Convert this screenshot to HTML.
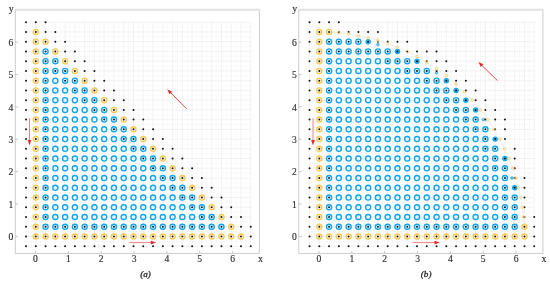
<!DOCTYPE html>
<html><head><meta charset="utf-8"><style>
html,body{margin:0;padding:0;background:#fff;}
svg{display:block;}
text{font-family:"Liberation Serif",serif;font-size:9.6px;fill:#303030;stroke:#303030;stroke-width:0.15px;}
text.ax{font-size:10px;}
text.cap{font-style:italic;font-size:9.2px;fill:#262626;stroke:#262626;stroke-width:0.3px;}
</style></head><body>
<svg width="550" height="286" viewBox="0 0 550 286">
<rect width="550" height="286" fill="#fff"/>
<path d="M30.91 22.22V246.24M40.68 22.22V246.24M50.45 22.22V246.24M60.22 22.22V246.24M70 22.22V246.24M79.76 22.22V246.24M89.53 22.22V246.24M99.3 22.22V246.24M109.07 22.22V246.24M118.84 22.22V246.24M128.62 22.22V246.24M138.38 22.22V246.24M148.15 22.22V246.24M157.93 22.22V246.24M167.69 22.22V246.24M177.46 22.22V246.24M187.24 22.22V246.24M197 22.22V246.24M206.77 22.22V246.24M216.55 22.22V246.24M226.31 22.22V246.24M236.08 22.22V246.24M245.85 22.22V246.24M26.03 241.37H250.74M26.03 231.63H250.74M26.03 221.89H250.74M26.03 212.15H250.74M26.03 202.41H250.74M26.03 192.67H250.74M26.03 182.93H250.74M26.03 173.19H250.74M26.03 163.45H250.74M26.03 153.71H250.74M26.03 143.97H250.74M26.03 134.23H250.74M26.03 124.49H250.74M26.03 114.75H250.74M26.03 105.01H250.74M26.03 95.27H250.74M26.03 85.53H250.74M26.03 75.79H250.74M26.03 66.05H250.74M26.03 56.31H250.74M26.03 46.57H250.74M26.03 36.83H250.74M26.03 27.09H250.74" stroke="#f7f7f7" stroke-width="0.6" fill="none"/>
<path d="M26.03 22.22V246.24M35.8 22.22V246.24M45.57 22.22V246.24M55.34 22.22V246.24M65.11 22.22V246.24M74.88 22.22V246.24M84.65 22.22V246.24M94.42 22.22V246.24M104.19 22.22V246.24M113.96 22.22V246.24M123.73 22.22V246.24M133.5 22.22V246.24M143.27 22.22V246.24M153.04 22.22V246.24M162.81 22.22V246.24M172.58 22.22V246.24M182.35 22.22V246.24M192.12 22.22V246.24M201.89 22.22V246.24M211.66 22.22V246.24M221.43 22.22V246.24M231.2 22.22V246.24M240.97 22.22V246.24M250.74 22.22V246.24M26.03 246.24H250.74M26.03 236.5H250.74M26.03 226.76H250.74M26.03 217.02H250.74M26.03 207.28H250.74M26.03 197.54H250.74M26.03 187.8H250.74M26.03 178.06H250.74M26.03 168.32H250.74M26.03 158.58H250.74M26.03 148.84H250.74M26.03 139.1H250.74M26.03 129.36H250.74M26.03 119.62H250.74M26.03 109.88H250.74M26.03 100.14H250.74M26.03 90.4H250.74M26.03 80.66H250.74M26.03 70.92H250.74M26.03 61.18H250.74M26.03 51.44H250.74M26.03 41.7H250.74M26.03 31.96H250.74M26.03 22.22H250.74" stroke="#efefef" stroke-width="0.8" fill="none"/>
<rect x="15.3" y="9.9" width="244.1" height="243.5" fill="none" stroke="#cdcdcd" stroke-width="1"/>
<path d="M15.3 9.2H259.4" stroke="#dedede" stroke-width="0.8"/>
<path d="M35.5 253.4v-2.5M15.3 236.4h2.8M68.35 253.4v-2.5M15.3 204.03h2.8M101.2 253.4v-2.5M15.3 171.66h2.8M134.05 253.4v-2.5M15.3 139.29h2.8M166.9 253.4v-2.5M15.3 106.92h2.8M199.75 253.4v-2.5M15.3 74.55h2.8M232.6 253.4v-2.5M15.3 42.18h2.8" stroke="#b0b0b0" stroke-width="0.7" fill="none"/>
<text x="35.5" y="262.2" text-anchor="middle">0</text>
<text x="13.2" y="240" text-anchor="end">0</text>
<text x="68.35" y="262.2" text-anchor="middle">1</text>
<text x="13.2" y="207.63" text-anchor="end">1</text>
<text x="101.2" y="262.2" text-anchor="middle">2</text>
<text x="13.2" y="175.26" text-anchor="end">2</text>
<text x="134.05" y="262.2" text-anchor="middle">3</text>
<text x="13.2" y="142.89" text-anchor="end">3</text>
<text x="166.9" y="262.2" text-anchor="middle">4</text>
<text x="13.2" y="110.52" text-anchor="end">4</text>
<text x="199.75" y="262.2" text-anchor="middle">5</text>
<text x="13.2" y="78.15" text-anchor="end">5</text>
<text x="232.6" y="262.2" text-anchor="middle">6</text>
<text x="13.2" y="45.78" text-anchor="end">6</text>
<text x="8.7" y="11.5" class="ax">y</text>
<text x="257.9" y="262" class="ax">x</text>
<g fill="none" stroke="#f9ca52" stroke-width="1.4"><circle cx="35.8" cy="236.5" r="2.55"/><circle cx="45.57" cy="236.5" r="2.55"/><circle cx="55.34" cy="236.5" r="2.55"/><circle cx="65.11" cy="236.5" r="2.55"/><circle cx="74.88" cy="236.5" r="2.55"/><circle cx="84.65" cy="236.5" r="2.55"/><circle cx="94.42" cy="236.5" r="2.55"/><circle cx="104.19" cy="236.5" r="2.55"/><circle cx="113.96" cy="236.5" r="2.55"/><circle cx="123.73" cy="236.5" r="2.55"/><circle cx="133.5" cy="236.5" r="2.55"/><circle cx="143.27" cy="236.5" r="2.55"/><circle cx="153.04" cy="236.5" r="2.55"/><circle cx="162.81" cy="236.5" r="2.55"/><circle cx="172.58" cy="236.5" r="2.55"/><circle cx="182.35" cy="236.5" r="2.55"/><circle cx="192.12" cy="236.5" r="2.55"/><circle cx="201.89" cy="236.5" r="2.55"/><circle cx="211.66" cy="236.5" r="2.55"/><circle cx="221.43" cy="236.5" r="2.55"/><circle cx="231.2" cy="236.5" r="2.55"/><circle cx="240.97" cy="236.5" r="2.55"/><circle cx="35.8" cy="226.76" r="2.55"/><circle cx="231.2" cy="226.76" r="2.55"/><circle cx="35.8" cy="217.02" r="2.55"/><circle cx="221.43" cy="217.02" r="2.55"/><circle cx="35.8" cy="207.28" r="2.55"/><circle cx="211.66" cy="207.28" r="2.55"/><circle cx="35.8" cy="197.54" r="2.55"/><circle cx="201.89" cy="197.54" r="2.55"/><circle cx="35.8" cy="187.8" r="2.55"/><circle cx="192.12" cy="187.8" r="2.55"/><circle cx="35.8" cy="178.06" r="2.55"/><circle cx="182.35" cy="178.06" r="2.55"/><circle cx="35.8" cy="168.32" r="2.55"/><circle cx="172.58" cy="168.32" r="2.55"/><circle cx="35.8" cy="158.58" r="2.55"/><circle cx="162.81" cy="158.58" r="2.55"/><circle cx="35.8" cy="148.84" r="2.55"/><circle cx="153.04" cy="148.84" r="2.55"/><circle cx="35.8" cy="139.1" r="2.55"/><circle cx="143.27" cy="139.1" r="2.55"/><circle cx="35.8" cy="129.36" r="2.55"/><circle cx="133.5" cy="129.36" r="2.55"/><circle cx="35.8" cy="119.62" r="2.55"/><circle cx="123.73" cy="119.62" r="2.55"/><circle cx="35.8" cy="109.88" r="2.55"/><circle cx="113.96" cy="109.88" r="2.55"/><circle cx="35.8" cy="100.14" r="2.55"/><circle cx="104.19" cy="100.14" r="2.55"/><circle cx="35.8" cy="90.4" r="2.55"/><circle cx="94.42" cy="90.4" r="2.55"/><circle cx="35.8" cy="80.66" r="2.55"/><circle cx="84.65" cy="80.66" r="2.55"/><circle cx="35.8" cy="70.92" r="2.55"/><circle cx="74.88" cy="70.92" r="2.55"/><circle cx="35.8" cy="61.18" r="2.55"/><circle cx="65.11" cy="61.18" r="2.55"/><circle cx="35.8" cy="51.44" r="2.55"/><circle cx="55.34" cy="51.44" r="2.55"/><circle cx="35.8" cy="41.7" r="2.55"/><circle cx="45.57" cy="41.7" r="2.55"/><circle cx="35.8" cy="31.96" r="2.55"/></g>
<g fill="none" stroke="#0ea6ee" stroke-width="1.4"><circle cx="45.57" cy="226.76" r="2.55"/><circle cx="55.34" cy="226.76" r="2.55"/><circle cx="65.11" cy="226.76" r="2.55"/><circle cx="74.88" cy="226.76" r="2.55"/><circle cx="84.65" cy="226.76" r="2.55"/><circle cx="94.42" cy="226.76" r="2.55"/><circle cx="104.19" cy="226.76" r="2.55"/><circle cx="113.96" cy="226.76" r="2.55"/><circle cx="123.73" cy="226.76" r="2.55"/><circle cx="133.5" cy="226.76" r="2.55"/><circle cx="143.27" cy="226.76" r="2.55"/><circle cx="153.04" cy="226.76" r="2.55"/><circle cx="162.81" cy="226.76" r="2.55"/><circle cx="172.58" cy="226.76" r="2.55"/><circle cx="182.35" cy="226.76" r="2.55"/><circle cx="192.12" cy="226.76" r="2.55"/><circle cx="201.89" cy="226.76" r="2.55"/><circle cx="211.66" cy="226.76" r="2.55"/><circle cx="221.43" cy="226.76" r="2.55"/><circle cx="45.57" cy="217.02" r="2.55"/><circle cx="55.34" cy="217.02" r="2.55"/><circle cx="65.11" cy="217.02" r="2.55"/><circle cx="74.88" cy="217.02" r="2.55"/><circle cx="84.65" cy="217.02" r="2.55"/><circle cx="94.42" cy="217.02" r="2.55"/><circle cx="104.19" cy="217.02" r="2.55"/><circle cx="113.96" cy="217.02" r="2.55"/><circle cx="123.73" cy="217.02" r="2.55"/><circle cx="133.5" cy="217.02" r="2.55"/><circle cx="143.27" cy="217.02" r="2.55"/><circle cx="153.04" cy="217.02" r="2.55"/><circle cx="162.81" cy="217.02" r="2.55"/><circle cx="172.58" cy="217.02" r="2.55"/><circle cx="182.35" cy="217.02" r="2.55"/><circle cx="192.12" cy="217.02" r="2.55"/><circle cx="201.89" cy="217.02" r="2.55"/><circle cx="211.66" cy="217.02" r="2.55"/><circle cx="45.57" cy="207.28" r="2.55"/><circle cx="55.34" cy="207.28" r="2.55"/><circle cx="65.11" cy="207.28" r="2.55"/><circle cx="74.88" cy="207.28" r="2.55"/><circle cx="84.65" cy="207.28" r="2.55"/><circle cx="94.42" cy="207.28" r="2.55"/><circle cx="104.19" cy="207.28" r="2.55"/><circle cx="113.96" cy="207.28" r="2.55"/><circle cx="123.73" cy="207.28" r="2.55"/><circle cx="133.5" cy="207.28" r="2.55"/><circle cx="143.27" cy="207.28" r="2.55"/><circle cx="153.04" cy="207.28" r="2.55"/><circle cx="162.81" cy="207.28" r="2.55"/><circle cx="172.58" cy="207.28" r="2.55"/><circle cx="182.35" cy="207.28" r="2.55"/><circle cx="192.12" cy="207.28" r="2.55"/><circle cx="201.89" cy="207.28" r="2.55"/><circle cx="45.57" cy="197.54" r="2.55"/><circle cx="55.34" cy="197.54" r="2.55"/><circle cx="65.11" cy="197.54" r="2.55"/><circle cx="74.88" cy="197.54" r="2.55"/><circle cx="84.65" cy="197.54" r="2.55"/><circle cx="94.42" cy="197.54" r="2.55"/><circle cx="104.19" cy="197.54" r="2.55"/><circle cx="113.96" cy="197.54" r="2.55"/><circle cx="123.73" cy="197.54" r="2.55"/><circle cx="133.5" cy="197.54" r="2.55"/><circle cx="143.27" cy="197.54" r="2.55"/><circle cx="153.04" cy="197.54" r="2.55"/><circle cx="162.81" cy="197.54" r="2.55"/><circle cx="172.58" cy="197.54" r="2.55"/><circle cx="182.35" cy="197.54" r="2.55"/><circle cx="192.12" cy="197.54" r="2.55"/><circle cx="45.57" cy="187.8" r="2.55"/><circle cx="55.34" cy="187.8" r="2.55"/><circle cx="65.11" cy="187.8" r="2.55"/><circle cx="74.88" cy="187.8" r="2.55"/><circle cx="84.65" cy="187.8" r="2.55"/><circle cx="94.42" cy="187.8" r="2.55"/><circle cx="104.19" cy="187.8" r="2.55"/><circle cx="113.96" cy="187.8" r="2.55"/><circle cx="123.73" cy="187.8" r="2.55"/><circle cx="133.5" cy="187.8" r="2.55"/><circle cx="143.27" cy="187.8" r="2.55"/><circle cx="153.04" cy="187.8" r="2.55"/><circle cx="162.81" cy="187.8" r="2.55"/><circle cx="172.58" cy="187.8" r="2.55"/><circle cx="182.35" cy="187.8" r="2.55"/><circle cx="45.57" cy="178.06" r="2.55"/><circle cx="55.34" cy="178.06" r="2.55"/><circle cx="65.11" cy="178.06" r="2.55"/><circle cx="74.88" cy="178.06" r="2.55"/><circle cx="84.65" cy="178.06" r="2.55"/><circle cx="94.42" cy="178.06" r="2.55"/><circle cx="104.19" cy="178.06" r="2.55"/><circle cx="113.96" cy="178.06" r="2.55"/><circle cx="123.73" cy="178.06" r="2.55"/><circle cx="133.5" cy="178.06" r="2.55"/><circle cx="143.27" cy="178.06" r="2.55"/><circle cx="153.04" cy="178.06" r="2.55"/><circle cx="162.81" cy="178.06" r="2.55"/><circle cx="172.58" cy="178.06" r="2.55"/><circle cx="45.57" cy="168.32" r="2.55"/><circle cx="55.34" cy="168.32" r="2.55"/><circle cx="65.11" cy="168.32" r="2.55"/><circle cx="74.88" cy="168.32" r="2.55"/><circle cx="84.65" cy="168.32" r="2.55"/><circle cx="94.42" cy="168.32" r="2.55"/><circle cx="104.19" cy="168.32" r="2.55"/><circle cx="113.96" cy="168.32" r="2.55"/><circle cx="123.73" cy="168.32" r="2.55"/><circle cx="133.5" cy="168.32" r="2.55"/><circle cx="143.27" cy="168.32" r="2.55"/><circle cx="153.04" cy="168.32" r="2.55"/><circle cx="162.81" cy="168.32" r="2.55"/><circle cx="45.57" cy="158.58" r="2.55"/><circle cx="55.34" cy="158.58" r="2.55"/><circle cx="65.11" cy="158.58" r="2.55"/><circle cx="74.88" cy="158.58" r="2.55"/><circle cx="84.65" cy="158.58" r="2.55"/><circle cx="94.42" cy="158.58" r="2.55"/><circle cx="104.19" cy="158.58" r="2.55"/><circle cx="113.96" cy="158.58" r="2.55"/><circle cx="123.73" cy="158.58" r="2.55"/><circle cx="133.5" cy="158.58" r="2.55"/><circle cx="143.27" cy="158.58" r="2.55"/><circle cx="153.04" cy="158.58" r="2.55"/><circle cx="45.57" cy="148.84" r="2.55"/><circle cx="55.34" cy="148.84" r="2.55"/><circle cx="65.11" cy="148.84" r="2.55"/><circle cx="74.88" cy="148.84" r="2.55"/><circle cx="84.65" cy="148.84" r="2.55"/><circle cx="94.42" cy="148.84" r="2.55"/><circle cx="104.19" cy="148.84" r="2.55"/><circle cx="113.96" cy="148.84" r="2.55"/><circle cx="123.73" cy="148.84" r="2.55"/><circle cx="133.5" cy="148.84" r="2.55"/><circle cx="143.27" cy="148.84" r="2.55"/><circle cx="45.57" cy="139.1" r="2.55"/><circle cx="55.34" cy="139.1" r="2.55"/><circle cx="65.11" cy="139.1" r="2.55"/><circle cx="74.88" cy="139.1" r="2.55"/><circle cx="84.65" cy="139.1" r="2.55"/><circle cx="94.42" cy="139.1" r="2.55"/><circle cx="104.19" cy="139.1" r="2.55"/><circle cx="113.96" cy="139.1" r="2.55"/><circle cx="123.73" cy="139.1" r="2.55"/><circle cx="133.5" cy="139.1" r="2.55"/><circle cx="45.57" cy="129.36" r="2.55"/><circle cx="55.34" cy="129.36" r="2.55"/><circle cx="65.11" cy="129.36" r="2.55"/><circle cx="74.88" cy="129.36" r="2.55"/><circle cx="84.65" cy="129.36" r="2.55"/><circle cx="94.42" cy="129.36" r="2.55"/><circle cx="104.19" cy="129.36" r="2.55"/><circle cx="113.96" cy="129.36" r="2.55"/><circle cx="123.73" cy="129.36" r="2.55"/><circle cx="45.57" cy="119.62" r="2.55"/><circle cx="55.34" cy="119.62" r="2.55"/><circle cx="65.11" cy="119.62" r="2.55"/><circle cx="74.88" cy="119.62" r="2.55"/><circle cx="84.65" cy="119.62" r="2.55"/><circle cx="94.42" cy="119.62" r="2.55"/><circle cx="104.19" cy="119.62" r="2.55"/><circle cx="113.96" cy="119.62" r="2.55"/><circle cx="45.57" cy="109.88" r="2.55"/><circle cx="55.34" cy="109.88" r="2.55"/><circle cx="65.11" cy="109.88" r="2.55"/><circle cx="74.88" cy="109.88" r="2.55"/><circle cx="84.65" cy="109.88" r="2.55"/><circle cx="94.42" cy="109.88" r="2.55"/><circle cx="104.19" cy="109.88" r="2.55"/><circle cx="45.57" cy="100.14" r="2.55"/><circle cx="55.34" cy="100.14" r="2.55"/><circle cx="65.11" cy="100.14" r="2.55"/><circle cx="74.88" cy="100.14" r="2.55"/><circle cx="84.65" cy="100.14" r="2.55"/><circle cx="94.42" cy="100.14" r="2.55"/><circle cx="45.57" cy="90.4" r="2.55"/><circle cx="55.34" cy="90.4" r="2.55"/><circle cx="65.11" cy="90.4" r="2.55"/><circle cx="74.88" cy="90.4" r="2.55"/><circle cx="84.65" cy="90.4" r="2.55"/><circle cx="45.57" cy="80.66" r="2.55"/><circle cx="55.34" cy="80.66" r="2.55"/><circle cx="65.11" cy="80.66" r="2.55"/><circle cx="74.88" cy="80.66" r="2.55"/><circle cx="45.57" cy="70.92" r="2.55"/><circle cx="55.34" cy="70.92" r="2.55"/><circle cx="65.11" cy="70.92" r="2.55"/><circle cx="45.57" cy="61.18" r="2.55"/><circle cx="55.34" cy="61.18" r="2.55"/><circle cx="45.57" cy="51.44" r="2.55"/></g>
<g fill="#3cb4f2" stroke="#0ea6ee" stroke-width="1.05"></g>
<g fill="#7cccf2" stroke="#0ea6ee" stroke-width="0.7"></g>
<g fill="#141414"><circle cx="26.03" cy="246.24" r="1.0"/><circle cx="35.8" cy="246.24" r="1.0"/><circle cx="45.57" cy="246.24" r="1.0"/><circle cx="55.34" cy="246.24" r="1.0"/><circle cx="65.11" cy="246.24" r="1.0"/><circle cx="74.88" cy="246.24" r="1.0"/><circle cx="84.65" cy="246.24" r="1.0"/><circle cx="94.42" cy="246.24" r="1.0"/><circle cx="104.19" cy="246.24" r="1.0"/><circle cx="113.96" cy="246.24" r="1.0"/><circle cx="123.73" cy="246.24" r="1.0"/><circle cx="133.5" cy="246.24" r="1.0"/><circle cx="143.27" cy="246.24" r="1.0"/><circle cx="153.04" cy="246.24" r="1.0"/><circle cx="162.81" cy="246.24" r="1.0"/><circle cx="172.58" cy="246.24" r="1.0"/><circle cx="182.35" cy="246.24" r="1.0"/><circle cx="192.12" cy="246.24" r="1.0"/><circle cx="201.89" cy="246.24" r="1.0"/><circle cx="211.66" cy="246.24" r="1.0"/><circle cx="221.43" cy="246.24" r="1.0"/><circle cx="231.2" cy="246.24" r="1.0"/><circle cx="240.97" cy="246.24" r="1.0"/><circle cx="250.74" cy="246.24" r="1.0"/><circle cx="26.03" cy="236.5" r="1.0"/><circle cx="35.8" cy="236.5" r="1.0"/><circle cx="45.57" cy="236.5" r="1.0"/><circle cx="55.34" cy="236.5" r="1.0"/><circle cx="65.11" cy="236.5" r="1.0"/><circle cx="74.88" cy="236.5" r="1.0"/><circle cx="84.65" cy="236.5" r="1.0"/><circle cx="94.42" cy="236.5" r="1.0"/><circle cx="104.19" cy="236.5" r="1.0"/><circle cx="113.96" cy="236.5" r="1.0"/><circle cx="123.73" cy="236.5" r="1.0"/><circle cx="133.5" cy="236.5" r="1.0"/><circle cx="143.27" cy="236.5" r="1.0"/><circle cx="153.04" cy="236.5" r="1.0"/><circle cx="162.81" cy="236.5" r="1.0"/><circle cx="172.58" cy="236.5" r="1.0"/><circle cx="182.35" cy="236.5" r="1.0"/><circle cx="192.12" cy="236.5" r="1.0"/><circle cx="201.89" cy="236.5" r="1.0"/><circle cx="211.66" cy="236.5" r="1.0"/><circle cx="221.43" cy="236.5" r="1.0"/><circle cx="231.2" cy="236.5" r="1.0"/><circle cx="240.97" cy="236.5" r="1.0"/><circle cx="250.74" cy="236.5" r="1.0"/><circle cx="26.03" cy="226.76" r="1.0"/><circle cx="35.8" cy="226.76" r="1.0"/><circle cx="45.57" cy="226.76" r="1.0"/><circle cx="55.34" cy="226.76" r="1.0"/><circle cx="65.11" cy="226.76" r="1.0"/><circle cx="74.88" cy="226.76" r="1.0"/><circle cx="84.65" cy="226.76" r="1.0"/><circle cx="94.42" cy="226.76" r="1.0"/><circle cx="104.19" cy="226.76" r="1.0"/><circle cx="113.96" cy="226.76" r="1.0"/><circle cx="123.73" cy="226.76" r="1.0"/><circle cx="133.5" cy="226.76" r="1.0"/><circle cx="143.27" cy="226.76" r="1.0"/><circle cx="153.04" cy="226.76" r="1.0"/><circle cx="162.81" cy="226.76" r="1.0"/><circle cx="172.58" cy="226.76" r="1.0"/><circle cx="182.35" cy="226.76" r="1.0"/><circle cx="192.12" cy="226.76" r="1.0"/><circle cx="201.89" cy="226.76" r="1.0"/><circle cx="211.66" cy="226.76" r="1.0"/><circle cx="221.43" cy="226.76" r="1.0"/><circle cx="231.2" cy="226.76" r="1.0"/><circle cx="240.97" cy="226.76" r="1.0"/><circle cx="250.74" cy="226.76" r="1.0"/><circle cx="26.03" cy="217.02" r="1.0"/><circle cx="35.8" cy="217.02" r="1.0"/><circle cx="45.57" cy="217.02" r="1.0"/><circle cx="201.89" cy="217.02" r="1.0"/><circle cx="211.66" cy="217.02" r="1.0"/><circle cx="221.43" cy="217.02" r="1.0"/><circle cx="231.2" cy="217.02" r="1.0"/><circle cx="240.97" cy="217.02" r="1.0"/><circle cx="26.03" cy="207.28" r="1.0"/><circle cx="35.8" cy="207.28" r="1.0"/><circle cx="45.57" cy="207.28" r="1.0"/><circle cx="192.12" cy="207.28" r="1.0"/><circle cx="201.89" cy="207.28" r="1.0"/><circle cx="211.66" cy="207.28" r="1.0"/><circle cx="221.43" cy="207.28" r="1.0"/><circle cx="231.2" cy="207.28" r="1.0"/><circle cx="26.03" cy="197.54" r="1.0"/><circle cx="35.8" cy="197.54" r="1.0"/><circle cx="45.57" cy="197.54" r="1.0"/><circle cx="182.35" cy="197.54" r="1.0"/><circle cx="192.12" cy="197.54" r="1.0"/><circle cx="201.89" cy="197.54" r="1.0"/><circle cx="211.66" cy="197.54" r="1.0"/><circle cx="221.43" cy="197.54" r="1.0"/><circle cx="26.03" cy="187.8" r="1.0"/><circle cx="35.8" cy="187.8" r="1.0"/><circle cx="45.57" cy="187.8" r="1.0"/><circle cx="172.58" cy="187.8" r="1.0"/><circle cx="182.35" cy="187.8" r="1.0"/><circle cx="192.12" cy="187.8" r="1.0"/><circle cx="201.89" cy="187.8" r="1.0"/><circle cx="211.66" cy="187.8" r="1.0"/><circle cx="26.03" cy="178.06" r="1.0"/><circle cx="35.8" cy="178.06" r="1.0"/><circle cx="45.57" cy="178.06" r="1.0"/><circle cx="162.81" cy="178.06" r="1.0"/><circle cx="172.58" cy="178.06" r="1.0"/><circle cx="182.35" cy="178.06" r="1.0"/><circle cx="192.12" cy="178.06" r="1.0"/><circle cx="201.89" cy="178.06" r="1.0"/><circle cx="26.03" cy="168.32" r="1.0"/><circle cx="35.8" cy="168.32" r="1.0"/><circle cx="45.57" cy="168.32" r="1.0"/><circle cx="153.04" cy="168.32" r="1.0"/><circle cx="162.81" cy="168.32" r="1.0"/><circle cx="172.58" cy="168.32" r="1.0"/><circle cx="182.35" cy="168.32" r="1.0"/><circle cx="192.12" cy="168.32" r="1.0"/><circle cx="26.03" cy="158.58" r="1.0"/><circle cx="35.8" cy="158.58" r="1.0"/><circle cx="45.57" cy="158.58" r="1.0"/><circle cx="143.27" cy="158.58" r="1.0"/><circle cx="153.04" cy="158.58" r="1.0"/><circle cx="162.81" cy="158.58" r="1.0"/><circle cx="172.58" cy="158.58" r="1.0"/><circle cx="182.35" cy="158.58" r="1.0"/><circle cx="26.03" cy="148.84" r="1.0"/><circle cx="35.8" cy="148.84" r="1.0"/><circle cx="45.57" cy="148.84" r="1.0"/><circle cx="133.5" cy="148.84" r="1.0"/><circle cx="143.27" cy="148.84" r="1.0"/><circle cx="153.04" cy="148.84" r="1.0"/><circle cx="162.81" cy="148.84" r="1.0"/><circle cx="172.58" cy="148.84" r="1.0"/><circle cx="26.03" cy="139.1" r="1.0"/><circle cx="35.8" cy="139.1" r="1.0"/><circle cx="45.57" cy="139.1" r="1.0"/><circle cx="123.73" cy="139.1" r="1.0"/><circle cx="133.5" cy="139.1" r="1.0"/><circle cx="143.27" cy="139.1" r="1.0"/><circle cx="153.04" cy="139.1" r="1.0"/><circle cx="162.81" cy="139.1" r="1.0"/><circle cx="26.03" cy="129.36" r="1.0"/><circle cx="35.8" cy="129.36" r="1.0"/><circle cx="45.57" cy="129.36" r="1.0"/><circle cx="113.96" cy="129.36" r="1.0"/><circle cx="123.73" cy="129.36" r="1.0"/><circle cx="133.5" cy="129.36" r="1.0"/><circle cx="143.27" cy="129.36" r="1.0"/><circle cx="153.04" cy="129.36" r="1.0"/><circle cx="26.03" cy="119.62" r="1.0"/><circle cx="35.8" cy="119.62" r="1.0"/><circle cx="45.57" cy="119.62" r="1.0"/><circle cx="104.19" cy="119.62" r="1.0"/><circle cx="113.96" cy="119.62" r="1.0"/><circle cx="123.73" cy="119.62" r="1.0"/><circle cx="133.5" cy="119.62" r="1.0"/><circle cx="143.27" cy="119.62" r="1.0"/><circle cx="26.03" cy="109.88" r="1.0"/><circle cx="35.8" cy="109.88" r="1.0"/><circle cx="45.57" cy="109.88" r="1.0"/><circle cx="94.42" cy="109.88" r="1.0"/><circle cx="104.19" cy="109.88" r="1.0"/><circle cx="113.96" cy="109.88" r="1.0"/><circle cx="123.73" cy="109.88" r="1.0"/><circle cx="133.5" cy="109.88" r="1.0"/><circle cx="26.03" cy="100.14" r="1.0"/><circle cx="35.8" cy="100.14" r="1.0"/><circle cx="45.57" cy="100.14" r="1.0"/><circle cx="84.65" cy="100.14" r="1.0"/><circle cx="94.42" cy="100.14" r="1.0"/><circle cx="104.19" cy="100.14" r="1.0"/><circle cx="113.96" cy="100.14" r="1.0"/><circle cx="123.73" cy="100.14" r="1.0"/><circle cx="26.03" cy="90.4" r="1.0"/><circle cx="35.8" cy="90.4" r="1.0"/><circle cx="45.57" cy="90.4" r="1.0"/><circle cx="74.88" cy="90.4" r="1.0"/><circle cx="84.65" cy="90.4" r="1.0"/><circle cx="94.42" cy="90.4" r="1.0"/><circle cx="104.19" cy="90.4" r="1.0"/><circle cx="113.96" cy="90.4" r="1.0"/><circle cx="26.03" cy="80.66" r="1.0"/><circle cx="35.8" cy="80.66" r="1.0"/><circle cx="45.57" cy="80.66" r="1.0"/><circle cx="65.11" cy="80.66" r="1.0"/><circle cx="74.88" cy="80.66" r="1.0"/><circle cx="84.65" cy="80.66" r="1.0"/><circle cx="94.42" cy="80.66" r="1.0"/><circle cx="104.19" cy="80.66" r="1.0"/><circle cx="26.03" cy="70.92" r="1.0"/><circle cx="35.8" cy="70.92" r="1.0"/><circle cx="45.57" cy="70.92" r="1.0"/><circle cx="55.34" cy="70.92" r="1.0"/><circle cx="65.11" cy="70.92" r="1.0"/><circle cx="74.88" cy="70.92" r="1.0"/><circle cx="84.65" cy="70.92" r="1.0"/><circle cx="94.42" cy="70.92" r="1.0"/><circle cx="26.03" cy="61.18" r="1.0"/><circle cx="35.8" cy="61.18" r="1.0"/><circle cx="45.57" cy="61.18" r="1.0"/><circle cx="55.34" cy="61.18" r="1.0"/><circle cx="65.11" cy="61.18" r="1.0"/><circle cx="74.88" cy="61.18" r="1.0"/><circle cx="84.65" cy="61.18" r="1.0"/><circle cx="26.03" cy="51.44" r="1.0"/><circle cx="35.8" cy="51.44" r="1.0"/><circle cx="45.57" cy="51.44" r="1.0"/><circle cx="55.34" cy="51.44" r="1.0"/><circle cx="65.11" cy="51.44" r="1.0"/><circle cx="74.88" cy="51.44" r="1.0"/><circle cx="26.03" cy="41.7" r="1.0"/><circle cx="35.8" cy="41.7" r="1.0"/><circle cx="45.57" cy="41.7" r="1.0"/><circle cx="55.34" cy="41.7" r="1.0"/><circle cx="65.11" cy="41.7" r="1.0"/><circle cx="26.03" cy="31.96" r="1.0"/><circle cx="35.8" cy="31.96" r="1.0"/><circle cx="45.57" cy="31.96" r="1.0"/><circle cx="55.34" cy="31.96" r="1.0"/><circle cx="26.03" cy="22.22" r="1.0"/><circle cx="35.8" cy="22.22" r="1.0"/><circle cx="45.57" cy="22.22" r="1.0"/></g>
<g fill="none" stroke="#f9ca52" stroke-width="0.7"></g>
<path d="M314.42 22.22V246.24M324.19 22.22V246.24M333.95 22.22V246.24M343.73 22.22V246.24M353.5 22.22V246.24M363.26 22.22V246.24M373.04 22.22V246.24M382.81 22.22V246.24M392.57 22.22V246.24M402.35 22.22V246.24M412.12 22.22V246.24M421.88 22.22V246.24M431.65 22.22V246.24M441.43 22.22V246.24M451.19 22.22V246.24M460.97 22.22V246.24M470.74 22.22V246.24M480.5 22.22V246.24M490.27 22.22V246.24M500.05 22.22V246.24M509.81 22.22V246.24M519.59 22.22V246.24M529.36 22.22V246.24M309.53 241.37H534.24M309.53 231.63H534.24M309.53 221.89H534.24M309.53 212.15H534.24M309.53 202.41H534.24M309.53 192.67H534.24M309.53 182.93H534.24M309.53 173.19H534.24M309.53 163.45H534.24M309.53 153.71H534.24M309.53 143.97H534.24M309.53 134.23H534.24M309.53 124.49H534.24M309.53 114.75H534.24M309.53 105.01H534.24M309.53 95.27H534.24M309.53 85.53H534.24M309.53 75.79H534.24M309.53 66.05H534.24M309.53 56.31H534.24M309.53 46.57H534.24M309.53 36.83H534.24M309.53 27.09H534.24" stroke="#f7f7f7" stroke-width="0.6" fill="none"/>
<path d="M309.53 22.22V246.24M319.3 22.22V246.24M329.07 22.22V246.24M338.84 22.22V246.24M348.61 22.22V246.24M358.38 22.22V246.24M368.15 22.22V246.24M377.92 22.22V246.24M387.69 22.22V246.24M397.46 22.22V246.24M407.23 22.22V246.24M417 22.22V246.24M426.77 22.22V246.24M436.54 22.22V246.24M446.31 22.22V246.24M456.08 22.22V246.24M465.85 22.22V246.24M475.62 22.22V246.24M485.39 22.22V246.24M495.16 22.22V246.24M504.93 22.22V246.24M514.7 22.22V246.24M524.47 22.22V246.24M534.24 22.22V246.24M309.53 246.24H534.24M309.53 236.5H534.24M309.53 226.76H534.24M309.53 217.02H534.24M309.53 207.28H534.24M309.53 197.54H534.24M309.53 187.8H534.24M309.53 178.06H534.24M309.53 168.32H534.24M309.53 158.58H534.24M309.53 148.84H534.24M309.53 139.1H534.24M309.53 129.36H534.24M309.53 119.62H534.24M309.53 109.88H534.24M309.53 100.14H534.24M309.53 90.4H534.24M309.53 80.66H534.24M309.53 70.92H534.24M309.53 61.18H534.24M309.53 51.44H534.24M309.53 41.7H534.24M309.53 31.96H534.24M309.53 22.22H534.24" stroke="#efefef" stroke-width="0.8" fill="none"/>
<rect x="298.8" y="9.9" width="244.1" height="243.5" fill="none" stroke="#cdcdcd" stroke-width="1"/>
<path d="M298.8 9.2H542.9" stroke="#dedede" stroke-width="0.8"/>
<path d="M319 253.4v-2.5M298.8 236.4h2.8M351.85 253.4v-2.5M298.8 204.03h2.8M384.7 253.4v-2.5M298.8 171.66h2.8M417.55 253.4v-2.5M298.8 139.29h2.8M450.4 253.4v-2.5M298.8 106.92h2.8M483.25 253.4v-2.5M298.8 74.55h2.8M516.1 253.4v-2.5M298.8 42.18h2.8" stroke="#b0b0b0" stroke-width="0.7" fill="none"/>
<text x="319" y="262.2" text-anchor="middle">0</text>
<text x="296.7" y="240" text-anchor="end">0</text>
<text x="351.85" y="262.2" text-anchor="middle">1</text>
<text x="296.7" y="207.63" text-anchor="end">1</text>
<text x="384.7" y="262.2" text-anchor="middle">2</text>
<text x="296.7" y="175.26" text-anchor="end">2</text>
<text x="417.55" y="262.2" text-anchor="middle">3</text>
<text x="296.7" y="142.89" text-anchor="end">3</text>
<text x="450.4" y="262.2" text-anchor="middle">4</text>
<text x="296.7" y="110.52" text-anchor="end">4</text>
<text x="483.25" y="262.2" text-anchor="middle">5</text>
<text x="296.7" y="78.15" text-anchor="end">5</text>
<text x="516.1" y="262.2" text-anchor="middle">6</text>
<text x="296.7" y="45.78" text-anchor="end">6</text>
<text x="292.2" y="12.2" class="ax">y</text>
<text x="541.4" y="262" class="ax">x</text>
<path d="M524.47 236.5L524.35 229.36L523.97 222.23L523.35 215.12L522.47 208.03L521.35 200.98L519.99 193.97L518.38 187.02L516.52 180.12L514.43 173.29L512.1 166.54L509.53 159.88L506.73 153.31L503.71 146.84L500.45 140.47L496.98 134.23L493.29 128.11L489.39 122.12L485.29 116.27L480.98 110.57L476.47 105.02L471.77 99.64L466.89 94.41L461.82 89.37L456.59 84.5L451.18 79.81L445.62 75.32L439.9 71.02L434.03 66.93L428.02 63.04L421.88 59.36L415.62 55.9L409.24 52.66L402.75 49.64L396.16 46.85L389.47 44.3L382.7 41.97L375.85 39.88L368.94 38.04L361.96 36.43L354.93 35.07L347.85 33.95L340.75 33.08L333.61 32.46L326.46 32.08L319.3 31.96" stroke="#e8e6e0" stroke-width="0.6" fill="none"/>
<g fill="none" stroke="#f9ca52" stroke-width="1.4"><circle cx="319.3" cy="236.5" r="2.55"/><circle cx="329.07" cy="236.5" r="2.55"/><circle cx="338.84" cy="236.5" r="2.55"/><circle cx="348.61" cy="236.5" r="2.55"/><circle cx="358.38" cy="236.5" r="2.55"/><circle cx="368.15" cy="236.5" r="2.55"/><circle cx="377.92" cy="236.5" r="2.55"/><circle cx="387.69" cy="236.5" r="2.55"/><circle cx="397.46" cy="236.5" r="2.55"/><circle cx="407.23" cy="236.5" r="2.55"/><circle cx="417" cy="236.5" r="2.55"/><circle cx="426.77" cy="236.5" r="2.55"/><circle cx="436.54" cy="236.5" r="2.55"/><circle cx="446.31" cy="236.5" r="2.55"/><circle cx="456.08" cy="236.5" r="2.55"/><circle cx="465.85" cy="236.5" r="2.55"/><circle cx="475.62" cy="236.5" r="2.55"/><circle cx="485.39" cy="236.5" r="2.55"/><circle cx="495.16" cy="236.5" r="2.55"/><circle cx="504.93" cy="236.5" r="2.55"/><circle cx="514.7" cy="236.5" r="2.55"/><circle cx="524.47" cy="236.5" r="2.55"/><circle cx="319.3" cy="226.76" r="2.55"/><circle cx="524.47" cy="226.76" r="2.55"/><circle cx="319.3" cy="217.02" r="2.55"/><circle cx="319.3" cy="207.28" r="2.55"/><circle cx="319.3" cy="197.54" r="2.55"/><circle cx="319.3" cy="187.8" r="2.55"/><circle cx="319.3" cy="178.06" r="2.55"/><circle cx="319.3" cy="168.32" r="2.55"/><circle cx="319.3" cy="158.58" r="2.55"/><circle cx="319.3" cy="148.84" r="2.55"/><circle cx="319.3" cy="139.1" r="2.55"/><circle cx="319.3" cy="129.36" r="2.55"/><circle cx="319.3" cy="119.62" r="2.55"/><circle cx="319.3" cy="109.88" r="2.55"/><circle cx="319.3" cy="100.14" r="2.55"/><circle cx="319.3" cy="90.4" r="2.55"/><circle cx="319.3" cy="80.66" r="2.55"/><circle cx="319.3" cy="70.92" r="2.55"/><circle cx="319.3" cy="61.18" r="2.55"/><circle cx="319.3" cy="51.44" r="2.55"/><circle cx="319.3" cy="41.7" r="2.55"/><circle cx="319.3" cy="31.96" r="2.55"/><circle cx="329.07" cy="31.96" r="2.55"/></g>
<g fill="none" stroke="#0ea6ee" stroke-width="1.4"><circle cx="329.07" cy="226.76" r="2.55"/><circle cx="338.84" cy="226.76" r="2.55"/><circle cx="348.61" cy="226.76" r="2.55"/><circle cx="358.38" cy="226.76" r="2.55"/><circle cx="368.15" cy="226.76" r="2.55"/><circle cx="377.92" cy="226.76" r="2.55"/><circle cx="387.69" cy="226.76" r="2.55"/><circle cx="397.46" cy="226.76" r="2.55"/><circle cx="407.23" cy="226.76" r="2.55"/><circle cx="417" cy="226.76" r="2.55"/><circle cx="426.77" cy="226.76" r="2.55"/><circle cx="436.54" cy="226.76" r="2.55"/><circle cx="446.31" cy="226.76" r="2.55"/><circle cx="456.08" cy="226.76" r="2.55"/><circle cx="465.85" cy="226.76" r="2.55"/><circle cx="475.62" cy="226.76" r="2.55"/><circle cx="485.39" cy="226.76" r="2.55"/><circle cx="495.16" cy="226.76" r="2.55"/><circle cx="504.93" cy="226.76" r="2.55"/><circle cx="514.7" cy="226.76" r="2.55"/><circle cx="329.07" cy="217.02" r="2.55"/><circle cx="338.84" cy="217.02" r="2.55"/><circle cx="348.61" cy="217.02" r="2.55"/><circle cx="358.38" cy="217.02" r="2.55"/><circle cx="368.15" cy="217.02" r="2.55"/><circle cx="377.92" cy="217.02" r="2.55"/><circle cx="387.69" cy="217.02" r="2.55"/><circle cx="397.46" cy="217.02" r="2.55"/><circle cx="407.23" cy="217.02" r="2.55"/><circle cx="417" cy="217.02" r="2.55"/><circle cx="426.77" cy="217.02" r="2.55"/><circle cx="436.54" cy="217.02" r="2.55"/><circle cx="446.31" cy="217.02" r="2.55"/><circle cx="456.08" cy="217.02" r="2.55"/><circle cx="465.85" cy="217.02" r="2.55"/><circle cx="475.62" cy="217.02" r="2.55"/><circle cx="485.39" cy="217.02" r="2.55"/><circle cx="495.16" cy="217.02" r="2.55"/><circle cx="504.93" cy="217.02" r="2.55"/><circle cx="514.7" cy="217.02" r="2.55"/><circle cx="329.07" cy="207.28" r="2.55"/><circle cx="338.84" cy="207.28" r="2.55"/><circle cx="348.61" cy="207.28" r="2.55"/><circle cx="358.38" cy="207.28" r="2.55"/><circle cx="368.15" cy="207.28" r="2.55"/><circle cx="377.92" cy="207.28" r="2.55"/><circle cx="387.69" cy="207.28" r="2.55"/><circle cx="397.46" cy="207.28" r="2.55"/><circle cx="407.23" cy="207.28" r="2.55"/><circle cx="417" cy="207.28" r="2.55"/><circle cx="426.77" cy="207.28" r="2.55"/><circle cx="436.54" cy="207.28" r="2.55"/><circle cx="446.31" cy="207.28" r="2.55"/><circle cx="456.08" cy="207.28" r="2.55"/><circle cx="465.85" cy="207.28" r="2.55"/><circle cx="475.62" cy="207.28" r="2.55"/><circle cx="485.39" cy="207.28" r="2.55"/><circle cx="495.16" cy="207.28" r="2.55"/><circle cx="504.93" cy="207.28" r="2.55"/><circle cx="514.7" cy="207.28" r="2.55"/><circle cx="329.07" cy="197.54" r="2.55"/><circle cx="338.84" cy="197.54" r="2.55"/><circle cx="348.61" cy="197.54" r="2.55"/><circle cx="358.38" cy="197.54" r="2.55"/><circle cx="368.15" cy="197.54" r="2.55"/><circle cx="377.92" cy="197.54" r="2.55"/><circle cx="387.69" cy="197.54" r="2.55"/><circle cx="397.46" cy="197.54" r="2.55"/><circle cx="407.23" cy="197.54" r="2.55"/><circle cx="417" cy="197.54" r="2.55"/><circle cx="426.77" cy="197.54" r="2.55"/><circle cx="436.54" cy="197.54" r="2.55"/><circle cx="446.31" cy="197.54" r="2.55"/><circle cx="456.08" cy="197.54" r="2.55"/><circle cx="465.85" cy="197.54" r="2.55"/><circle cx="475.62" cy="197.54" r="2.55"/><circle cx="485.39" cy="197.54" r="2.55"/><circle cx="495.16" cy="197.54" r="2.55"/><circle cx="504.93" cy="197.54" r="2.55"/><circle cx="514.7" cy="197.54" r="2.55"/><circle cx="329.07" cy="187.8" r="2.55"/><circle cx="338.84" cy="187.8" r="2.55"/><circle cx="348.61" cy="187.8" r="2.55"/><circle cx="358.38" cy="187.8" r="2.55"/><circle cx="368.15" cy="187.8" r="2.55"/><circle cx="377.92" cy="187.8" r="2.55"/><circle cx="387.69" cy="187.8" r="2.55"/><circle cx="397.46" cy="187.8" r="2.55"/><circle cx="407.23" cy="187.8" r="2.55"/><circle cx="417" cy="187.8" r="2.55"/><circle cx="426.77" cy="187.8" r="2.55"/><circle cx="436.54" cy="187.8" r="2.55"/><circle cx="446.31" cy="187.8" r="2.55"/><circle cx="456.08" cy="187.8" r="2.55"/><circle cx="465.85" cy="187.8" r="2.55"/><circle cx="475.62" cy="187.8" r="2.55"/><circle cx="485.39" cy="187.8" r="2.55"/><circle cx="495.16" cy="187.8" r="2.55"/><circle cx="504.93" cy="187.8" r="2.55"/><circle cx="329.07" cy="178.06" r="2.55"/><circle cx="338.84" cy="178.06" r="2.55"/><circle cx="348.61" cy="178.06" r="2.55"/><circle cx="358.38" cy="178.06" r="2.55"/><circle cx="368.15" cy="178.06" r="2.55"/><circle cx="377.92" cy="178.06" r="2.55"/><circle cx="387.69" cy="178.06" r="2.55"/><circle cx="397.46" cy="178.06" r="2.55"/><circle cx="407.23" cy="178.06" r="2.55"/><circle cx="417" cy="178.06" r="2.55"/><circle cx="426.77" cy="178.06" r="2.55"/><circle cx="436.54" cy="178.06" r="2.55"/><circle cx="446.31" cy="178.06" r="2.55"/><circle cx="456.08" cy="178.06" r="2.55"/><circle cx="465.85" cy="178.06" r="2.55"/><circle cx="475.62" cy="178.06" r="2.55"/><circle cx="485.39" cy="178.06" r="2.55"/><circle cx="495.16" cy="178.06" r="2.55"/><circle cx="504.93" cy="178.06" r="2.55"/><circle cx="329.07" cy="168.32" r="2.55"/><circle cx="338.84" cy="168.32" r="2.55"/><circle cx="348.61" cy="168.32" r="2.55"/><circle cx="358.38" cy="168.32" r="2.55"/><circle cx="368.15" cy="168.32" r="2.55"/><circle cx="377.92" cy="168.32" r="2.55"/><circle cx="387.69" cy="168.32" r="2.55"/><circle cx="397.46" cy="168.32" r="2.55"/><circle cx="407.23" cy="168.32" r="2.55"/><circle cx="417" cy="168.32" r="2.55"/><circle cx="426.77" cy="168.32" r="2.55"/><circle cx="436.54" cy="168.32" r="2.55"/><circle cx="446.31" cy="168.32" r="2.55"/><circle cx="456.08" cy="168.32" r="2.55"/><circle cx="465.85" cy="168.32" r="2.55"/><circle cx="475.62" cy="168.32" r="2.55"/><circle cx="485.39" cy="168.32" r="2.55"/><circle cx="495.16" cy="168.32" r="2.55"/><circle cx="504.93" cy="168.32" r="2.55"/><circle cx="329.07" cy="158.58" r="2.55"/><circle cx="338.84" cy="158.58" r="2.55"/><circle cx="348.61" cy="158.58" r="2.55"/><circle cx="358.38" cy="158.58" r="2.55"/><circle cx="368.15" cy="158.58" r="2.55"/><circle cx="377.92" cy="158.58" r="2.55"/><circle cx="387.69" cy="158.58" r="2.55"/><circle cx="397.46" cy="158.58" r="2.55"/><circle cx="407.23" cy="158.58" r="2.55"/><circle cx="417" cy="158.58" r="2.55"/><circle cx="426.77" cy="158.58" r="2.55"/><circle cx="436.54" cy="158.58" r="2.55"/><circle cx="446.31" cy="158.58" r="2.55"/><circle cx="456.08" cy="158.58" r="2.55"/><circle cx="465.85" cy="158.58" r="2.55"/><circle cx="475.62" cy="158.58" r="2.55"/><circle cx="485.39" cy="158.58" r="2.55"/><circle cx="495.16" cy="158.58" r="2.55"/><circle cx="329.07" cy="148.84" r="2.55"/><circle cx="338.84" cy="148.84" r="2.55"/><circle cx="348.61" cy="148.84" r="2.55"/><circle cx="358.38" cy="148.84" r="2.55"/><circle cx="368.15" cy="148.84" r="2.55"/><circle cx="377.92" cy="148.84" r="2.55"/><circle cx="387.69" cy="148.84" r="2.55"/><circle cx="397.46" cy="148.84" r="2.55"/><circle cx="407.23" cy="148.84" r="2.55"/><circle cx="417" cy="148.84" r="2.55"/><circle cx="426.77" cy="148.84" r="2.55"/><circle cx="436.54" cy="148.84" r="2.55"/><circle cx="446.31" cy="148.84" r="2.55"/><circle cx="456.08" cy="148.84" r="2.55"/><circle cx="465.85" cy="148.84" r="2.55"/><circle cx="475.62" cy="148.84" r="2.55"/><circle cx="485.39" cy="148.84" r="2.55"/><circle cx="495.16" cy="148.84" r="2.55"/><circle cx="329.07" cy="139.1" r="2.55"/><circle cx="338.84" cy="139.1" r="2.55"/><circle cx="348.61" cy="139.1" r="2.55"/><circle cx="358.38" cy="139.1" r="2.55"/><circle cx="368.15" cy="139.1" r="2.55"/><circle cx="377.92" cy="139.1" r="2.55"/><circle cx="387.69" cy="139.1" r="2.55"/><circle cx="397.46" cy="139.1" r="2.55"/><circle cx="407.23" cy="139.1" r="2.55"/><circle cx="417" cy="139.1" r="2.55"/><circle cx="426.77" cy="139.1" r="2.55"/><circle cx="436.54" cy="139.1" r="2.55"/><circle cx="446.31" cy="139.1" r="2.55"/><circle cx="456.08" cy="139.1" r="2.55"/><circle cx="465.85" cy="139.1" r="2.55"/><circle cx="475.62" cy="139.1" r="2.55"/><circle cx="485.39" cy="139.1" r="2.55"/><circle cx="329.07" cy="129.36" r="2.55"/><circle cx="338.84" cy="129.36" r="2.55"/><circle cx="348.61" cy="129.36" r="2.55"/><circle cx="358.38" cy="129.36" r="2.55"/><circle cx="368.15" cy="129.36" r="2.55"/><circle cx="377.92" cy="129.36" r="2.55"/><circle cx="387.69" cy="129.36" r="2.55"/><circle cx="397.46" cy="129.36" r="2.55"/><circle cx="407.23" cy="129.36" r="2.55"/><circle cx="417" cy="129.36" r="2.55"/><circle cx="426.77" cy="129.36" r="2.55"/><circle cx="436.54" cy="129.36" r="2.55"/><circle cx="446.31" cy="129.36" r="2.55"/><circle cx="456.08" cy="129.36" r="2.55"/><circle cx="465.85" cy="129.36" r="2.55"/><circle cx="475.62" cy="129.36" r="2.55"/><circle cx="485.39" cy="129.36" r="2.55"/><circle cx="329.07" cy="119.62" r="2.55"/><circle cx="338.84" cy="119.62" r="2.55"/><circle cx="348.61" cy="119.62" r="2.55"/><circle cx="358.38" cy="119.62" r="2.55"/><circle cx="368.15" cy="119.62" r="2.55"/><circle cx="377.92" cy="119.62" r="2.55"/><circle cx="387.69" cy="119.62" r="2.55"/><circle cx="397.46" cy="119.62" r="2.55"/><circle cx="407.23" cy="119.62" r="2.55"/><circle cx="417" cy="119.62" r="2.55"/><circle cx="426.77" cy="119.62" r="2.55"/><circle cx="436.54" cy="119.62" r="2.55"/><circle cx="446.31" cy="119.62" r="2.55"/><circle cx="456.08" cy="119.62" r="2.55"/><circle cx="465.85" cy="119.62" r="2.55"/><circle cx="475.62" cy="119.62" r="2.55"/><circle cx="329.07" cy="109.88" r="2.55"/><circle cx="338.84" cy="109.88" r="2.55"/><circle cx="348.61" cy="109.88" r="2.55"/><circle cx="358.38" cy="109.88" r="2.55"/><circle cx="368.15" cy="109.88" r="2.55"/><circle cx="377.92" cy="109.88" r="2.55"/><circle cx="387.69" cy="109.88" r="2.55"/><circle cx="397.46" cy="109.88" r="2.55"/><circle cx="407.23" cy="109.88" r="2.55"/><circle cx="417" cy="109.88" r="2.55"/><circle cx="426.77" cy="109.88" r="2.55"/><circle cx="436.54" cy="109.88" r="2.55"/><circle cx="446.31" cy="109.88" r="2.55"/><circle cx="456.08" cy="109.88" r="2.55"/><circle cx="465.85" cy="109.88" r="2.55"/><circle cx="329.07" cy="100.14" r="2.55"/><circle cx="338.84" cy="100.14" r="2.55"/><circle cx="348.61" cy="100.14" r="2.55"/><circle cx="358.38" cy="100.14" r="2.55"/><circle cx="368.15" cy="100.14" r="2.55"/><circle cx="377.92" cy="100.14" r="2.55"/><circle cx="387.69" cy="100.14" r="2.55"/><circle cx="397.46" cy="100.14" r="2.55"/><circle cx="407.23" cy="100.14" r="2.55"/><circle cx="417" cy="100.14" r="2.55"/><circle cx="426.77" cy="100.14" r="2.55"/><circle cx="436.54" cy="100.14" r="2.55"/><circle cx="446.31" cy="100.14" r="2.55"/><circle cx="456.08" cy="100.14" r="2.55"/><circle cx="329.07" cy="90.4" r="2.55"/><circle cx="338.84" cy="90.4" r="2.55"/><circle cx="348.61" cy="90.4" r="2.55"/><circle cx="358.38" cy="90.4" r="2.55"/><circle cx="368.15" cy="90.4" r="2.55"/><circle cx="377.92" cy="90.4" r="2.55"/><circle cx="387.69" cy="90.4" r="2.55"/><circle cx="397.46" cy="90.4" r="2.55"/><circle cx="407.23" cy="90.4" r="2.55"/><circle cx="417" cy="90.4" r="2.55"/><circle cx="426.77" cy="90.4" r="2.55"/><circle cx="436.54" cy="90.4" r="2.55"/><circle cx="446.31" cy="90.4" r="2.55"/><circle cx="329.07" cy="80.66" r="2.55"/><circle cx="338.84" cy="80.66" r="2.55"/><circle cx="348.61" cy="80.66" r="2.55"/><circle cx="358.38" cy="80.66" r="2.55"/><circle cx="368.15" cy="80.66" r="2.55"/><circle cx="377.92" cy="80.66" r="2.55"/><circle cx="387.69" cy="80.66" r="2.55"/><circle cx="397.46" cy="80.66" r="2.55"/><circle cx="407.23" cy="80.66" r="2.55"/><circle cx="417" cy="80.66" r="2.55"/><circle cx="426.77" cy="80.66" r="2.55"/><circle cx="436.54" cy="80.66" r="2.55"/><circle cx="329.07" cy="70.92" r="2.55"/><circle cx="338.84" cy="70.92" r="2.55"/><circle cx="348.61" cy="70.92" r="2.55"/><circle cx="358.38" cy="70.92" r="2.55"/><circle cx="368.15" cy="70.92" r="2.55"/><circle cx="377.92" cy="70.92" r="2.55"/><circle cx="387.69" cy="70.92" r="2.55"/><circle cx="397.46" cy="70.92" r="2.55"/><circle cx="407.23" cy="70.92" r="2.55"/><circle cx="417" cy="70.92" r="2.55"/><circle cx="426.77" cy="70.92" r="2.55"/><circle cx="329.07" cy="61.18" r="2.55"/><circle cx="338.84" cy="61.18" r="2.55"/><circle cx="348.61" cy="61.18" r="2.55"/><circle cx="358.38" cy="61.18" r="2.55"/><circle cx="368.15" cy="61.18" r="2.55"/><circle cx="377.92" cy="61.18" r="2.55"/><circle cx="387.69" cy="61.18" r="2.55"/><circle cx="397.46" cy="61.18" r="2.55"/><circle cx="407.23" cy="61.18" r="2.55"/><circle cx="329.07" cy="51.44" r="2.55"/><circle cx="338.84" cy="51.44" r="2.55"/><circle cx="348.61" cy="51.44" r="2.55"/><circle cx="358.38" cy="51.44" r="2.55"/><circle cx="368.15" cy="51.44" r="2.55"/><circle cx="377.92" cy="51.44" r="2.55"/><circle cx="387.69" cy="51.44" r="2.55"/><circle cx="329.07" cy="41.7" r="2.55"/><circle cx="338.84" cy="41.7" r="2.55"/><circle cx="348.61" cy="41.7" r="2.55"/><circle cx="358.38" cy="41.7" r="2.55"/></g>
<g fill="#3cb4f2" stroke="#0ea6ee" stroke-width="1.05"><circle cx="514.7" cy="187.8" r="2.2"/><circle cx="504.93" cy="158.58" r="2.2"/><circle cx="495.16" cy="139.1" r="2.2"/><circle cx="475.62" cy="109.88" r="2.2"/><circle cx="465.85" cy="100.14" r="2.2"/><circle cx="456.08" cy="90.4" r="2.2"/><circle cx="446.31" cy="80.66" r="2.2"/><circle cx="417" cy="61.18" r="2.2"/><circle cx="397.46" cy="51.44" r="2.2"/><circle cx="368.15" cy="41.7" r="2.2"/></g>
<g fill="#7cccf2" stroke="#0ea6ee" stroke-width="0.7"><circle cx="511.9" cy="178.06" r="1.3"/><circle cx="483.44" cy="119.62" r="1.3"/><circle cx="436.54" cy="72.82" r="1.3"/><circle cx="377.92" cy="44.6" r="1.3"/></g>
<g fill="#141414"><circle cx="309.53" cy="246.24" r="1.0"/><circle cx="319.3" cy="246.24" r="1.0"/><circle cx="329.07" cy="246.24" r="1.0"/><circle cx="338.84" cy="246.24" r="1.0"/><circle cx="348.61" cy="246.24" r="1.0"/><circle cx="358.38" cy="246.24" r="1.0"/><circle cx="368.15" cy="246.24" r="1.0"/><circle cx="377.92" cy="246.24" r="1.0"/><circle cx="387.69" cy="246.24" r="1.0"/><circle cx="397.46" cy="246.24" r="1.0"/><circle cx="407.23" cy="246.24" r="1.0"/><circle cx="417" cy="246.24" r="1.0"/><circle cx="426.77" cy="246.24" r="1.0"/><circle cx="436.54" cy="246.24" r="1.0"/><circle cx="446.31" cy="246.24" r="1.0"/><circle cx="456.08" cy="246.24" r="1.0"/><circle cx="465.85" cy="246.24" r="1.0"/><circle cx="475.62" cy="246.24" r="1.0"/><circle cx="485.39" cy="246.24" r="1.0"/><circle cx="495.16" cy="246.24" r="1.0"/><circle cx="504.93" cy="246.24" r="1.0"/><circle cx="514.7" cy="246.24" r="1.0"/><circle cx="524.47" cy="246.24" r="1.0"/><circle cx="534.24" cy="246.24" r="1.0"/><circle cx="309.53" cy="236.5" r="1.0"/><circle cx="319.3" cy="236.5" r="1.0"/><circle cx="329.07" cy="236.5" r="1.0"/><circle cx="338.84" cy="236.5" r="1.0"/><circle cx="348.61" cy="236.5" r="1.0"/><circle cx="358.38" cy="236.5" r="1.0"/><circle cx="368.15" cy="236.5" r="1.0"/><circle cx="377.92" cy="236.5" r="1.0"/><circle cx="387.69" cy="236.5" r="1.0"/><circle cx="397.46" cy="236.5" r="1.0"/><circle cx="407.23" cy="236.5" r="1.0"/><circle cx="417" cy="236.5" r="1.0"/><circle cx="426.77" cy="236.5" r="1.0"/><circle cx="436.54" cy="236.5" r="1.0"/><circle cx="446.31" cy="236.5" r="1.0"/><circle cx="456.08" cy="236.5" r="1.0"/><circle cx="465.85" cy="236.5" r="1.0"/><circle cx="475.62" cy="236.5" r="1.0"/><circle cx="485.39" cy="236.5" r="1.0"/><circle cx="495.16" cy="236.5" r="1.0"/><circle cx="504.93" cy="236.5" r="1.0"/><circle cx="514.7" cy="236.5" r="1.0"/><circle cx="524.47" cy="236.5" r="1.0"/><circle cx="534.24" cy="236.5" r="1.0"/><circle cx="309.53" cy="226.76" r="1.0"/><circle cx="319.3" cy="226.76" r="1.0"/><circle cx="329.07" cy="226.76" r="1.0"/><circle cx="338.84" cy="226.76" r="1.0"/><circle cx="348.61" cy="226.76" r="1.0"/><circle cx="358.38" cy="226.76" r="1.0"/><circle cx="368.15" cy="226.76" r="1.0"/><circle cx="377.92" cy="226.76" r="1.0"/><circle cx="387.69" cy="226.76" r="1.0"/><circle cx="397.46" cy="226.76" r="1.0"/><circle cx="407.23" cy="226.76" r="1.0"/><circle cx="417" cy="226.76" r="1.0"/><circle cx="426.77" cy="226.76" r="1.0"/><circle cx="436.54" cy="226.76" r="1.0"/><circle cx="446.31" cy="226.76" r="1.0"/><circle cx="456.08" cy="226.76" r="1.0"/><circle cx="465.85" cy="226.76" r="1.0"/><circle cx="475.62" cy="226.76" r="1.0"/><circle cx="485.39" cy="226.76" r="1.0"/><circle cx="495.16" cy="226.76" r="1.0"/><circle cx="504.93" cy="226.76" r="1.0"/><circle cx="514.7" cy="226.76" r="1.0"/><circle cx="524.47" cy="226.76" r="1.0"/><circle cx="534.24" cy="226.76" r="1.0"/><circle cx="309.53" cy="217.02" r="1.0"/><circle cx="319.3" cy="217.02" r="1.0"/><circle cx="329.07" cy="217.02" r="1.0"/><circle cx="504.93" cy="217.02" r="1.0"/><circle cx="514.7" cy="217.02" r="1.0"/><circle cx="524.47" cy="217.02" r="1.0"/><circle cx="534.24" cy="217.02" r="1.0"/><circle cx="309.53" cy="207.28" r="1.0"/><circle cx="319.3" cy="207.28" r="1.0"/><circle cx="329.07" cy="207.28" r="1.0"/><circle cx="504.93" cy="207.28" r="1.0"/><circle cx="514.7" cy="207.28" r="1.0"/><circle cx="524.47" cy="207.28" r="1.0"/><circle cx="309.53" cy="197.54" r="1.0"/><circle cx="319.3" cy="197.54" r="1.0"/><circle cx="329.07" cy="197.54" r="1.0"/><circle cx="504.93" cy="197.54" r="1.0"/><circle cx="514.7" cy="197.54" r="1.0"/><circle cx="524.47" cy="197.54" r="1.0"/><circle cx="309.53" cy="187.8" r="1.0"/><circle cx="319.3" cy="187.8" r="1.0"/><circle cx="329.07" cy="187.8" r="1.0"/><circle cx="504.93" cy="187.8" r="1.0"/><circle cx="514.7" cy="187.8" r="1.0"/><circle cx="524.47" cy="187.8" r="1.0"/><circle cx="309.53" cy="178.06" r="1.0"/><circle cx="319.3" cy="178.06" r="1.0"/><circle cx="329.07" cy="178.06" r="1.0"/><circle cx="504.93" cy="178.06" r="1.0"/><circle cx="514.7" cy="178.06" r="1.0"/><circle cx="524.47" cy="178.06" r="1.0"/><circle cx="309.53" cy="168.32" r="1.0"/><circle cx="319.3" cy="168.32" r="1.0"/><circle cx="329.07" cy="168.32" r="1.0"/><circle cx="495.16" cy="168.32" r="1.0"/><circle cx="504.93" cy="168.32" r="1.0"/><circle cx="514.7" cy="168.32" r="1.0"/><circle cx="309.53" cy="158.58" r="1.0"/><circle cx="319.3" cy="158.58" r="1.0"/><circle cx="329.07" cy="158.58" r="1.0"/><circle cx="495.16" cy="158.58" r="1.0"/><circle cx="504.93" cy="158.58" r="1.0"/><circle cx="514.7" cy="158.58" r="1.0"/><circle cx="309.53" cy="148.84" r="1.0"/><circle cx="319.3" cy="148.84" r="1.0"/><circle cx="329.07" cy="148.84" r="1.0"/><circle cx="485.39" cy="148.84" r="1.0"/><circle cx="495.16" cy="148.84" r="1.0"/><circle cx="514.7" cy="148.84" r="1.0"/><circle cx="309.53" cy="139.1" r="1.0"/><circle cx="319.3" cy="139.1" r="1.0"/><circle cx="329.07" cy="139.1" r="1.0"/><circle cx="485.39" cy="139.1" r="1.0"/><circle cx="495.16" cy="139.1" r="1.0"/><circle cx="504.93" cy="139.1" r="1.0"/><circle cx="309.53" cy="129.36" r="1.0"/><circle cx="319.3" cy="129.36" r="1.0"/><circle cx="329.07" cy="129.36" r="1.0"/><circle cx="475.62" cy="129.36" r="1.0"/><circle cx="485.39" cy="129.36" r="1.0"/><circle cx="495.16" cy="129.36" r="1.0"/><circle cx="504.93" cy="129.36" r="1.0"/><circle cx="309.53" cy="119.62" r="1.0"/><circle cx="319.3" cy="119.62" r="1.0"/><circle cx="329.07" cy="119.62" r="1.0"/><circle cx="465.85" cy="119.62" r="1.0"/><circle cx="475.62" cy="119.62" r="1.0"/><circle cx="485.39" cy="119.62" r="1.0"/><circle cx="495.16" cy="119.62" r="1.0"/><circle cx="504.93" cy="119.62" r="1.0"/><circle cx="309.53" cy="109.88" r="1.0"/><circle cx="319.3" cy="109.88" r="1.0"/><circle cx="329.07" cy="109.88" r="1.0"/><circle cx="456.08" cy="109.88" r="1.0"/><circle cx="465.85" cy="109.88" r="1.0"/><circle cx="475.62" cy="109.88" r="1.0"/><circle cx="485.39" cy="109.88" r="1.0"/><circle cx="495.16" cy="109.88" r="1.0"/><circle cx="309.53" cy="100.14" r="1.0"/><circle cx="319.3" cy="100.14" r="1.0"/><circle cx="329.07" cy="100.14" r="1.0"/><circle cx="446.31" cy="100.14" r="1.0"/><circle cx="456.08" cy="100.14" r="1.0"/><circle cx="465.85" cy="100.14" r="1.0"/><circle cx="475.62" cy="100.14" r="1.0"/><circle cx="485.39" cy="100.14" r="1.0"/><circle cx="309.53" cy="90.4" r="1.0"/><circle cx="319.3" cy="90.4" r="1.0"/><circle cx="329.07" cy="90.4" r="1.0"/><circle cx="436.54" cy="90.4" r="1.0"/><circle cx="446.31" cy="90.4" r="1.0"/><circle cx="456.08" cy="90.4" r="1.0"/><circle cx="465.85" cy="90.4" r="1.0"/><circle cx="475.62" cy="90.4" r="1.0"/><circle cx="309.53" cy="80.66" r="1.0"/><circle cx="319.3" cy="80.66" r="1.0"/><circle cx="329.07" cy="80.66" r="1.0"/><circle cx="426.77" cy="80.66" r="1.0"/><circle cx="436.54" cy="80.66" r="1.0"/><circle cx="446.31" cy="80.66" r="1.0"/><circle cx="456.08" cy="80.66" r="1.0"/><circle cx="465.85" cy="80.66" r="1.0"/><circle cx="309.53" cy="70.92" r="1.0"/><circle cx="319.3" cy="70.92" r="1.0"/><circle cx="329.07" cy="70.92" r="1.0"/><circle cx="407.23" cy="70.92" r="1.0"/><circle cx="417" cy="70.92" r="1.0"/><circle cx="426.77" cy="70.92" r="1.0"/><circle cx="436.54" cy="70.92" r="1.0"/><circle cx="446.31" cy="70.92" r="1.0"/><circle cx="456.08" cy="70.92" r="1.0"/><circle cx="309.53" cy="61.18" r="1.0"/><circle cx="319.3" cy="61.18" r="1.0"/><circle cx="329.07" cy="61.18" r="1.0"/><circle cx="387.69" cy="61.18" r="1.0"/><circle cx="397.46" cy="61.18" r="1.0"/><circle cx="407.23" cy="61.18" r="1.0"/><circle cx="417" cy="61.18" r="1.0"/><circle cx="426.77" cy="61.18" r="1.0"/><circle cx="436.54" cy="61.18" r="1.0"/><circle cx="446.31" cy="61.18" r="1.0"/><circle cx="309.53" cy="51.44" r="1.0"/><circle cx="319.3" cy="51.44" r="1.0"/><circle cx="329.07" cy="51.44" r="1.0"/><circle cx="338.84" cy="51.44" r="1.0"/><circle cx="348.61" cy="51.44" r="1.0"/><circle cx="358.38" cy="51.44" r="1.0"/><circle cx="368.15" cy="51.44" r="1.0"/><circle cx="377.92" cy="51.44" r="1.0"/><circle cx="387.69" cy="51.44" r="1.0"/><circle cx="397.46" cy="51.44" r="1.0"/><circle cx="407.23" cy="51.44" r="1.0"/><circle cx="417" cy="51.44" r="1.0"/><circle cx="426.77" cy="51.44" r="1.0"/><circle cx="436.54" cy="51.44" r="1.0"/><circle cx="309.53" cy="41.7" r="1.0"/><circle cx="319.3" cy="41.7" r="1.0"/><circle cx="329.07" cy="41.7" r="1.0"/><circle cx="338.84" cy="41.7" r="1.0"/><circle cx="348.61" cy="41.7" r="1.0"/><circle cx="358.38" cy="41.7" r="1.0"/><circle cx="368.15" cy="41.7" r="1.0"/><circle cx="377.92" cy="41.7" r="1.0"/><circle cx="387.69" cy="41.7" r="1.0"/><circle cx="397.46" cy="41.7" r="1.0"/><circle cx="407.23" cy="41.7" r="1.0"/><circle cx="309.53" cy="31.96" r="1.0"/><circle cx="319.3" cy="31.96" r="1.0"/><circle cx="329.07" cy="31.96" r="1.0"/><circle cx="338.84" cy="31.96" r="1.0"/><circle cx="348.61" cy="31.96" r="1.0"/><circle cx="358.38" cy="31.96" r="1.0"/><circle cx="368.15" cy="31.96" r="1.0"/><circle cx="377.92" cy="31.96" r="1.0"/><circle cx="309.53" cy="22.22" r="1.0"/><circle cx="319.3" cy="22.22" r="1.0"/><circle cx="329.07" cy="22.22" r="1.0"/><circle cx="338.84" cy="22.22" r="1.0"/></g>
<g fill="none" stroke="#f9ca52" stroke-width="0.7"><circle cx="338.84" cy="32.89" r="1.3"/><circle cx="523.54" cy="217.02" r="1.3"/><circle cx="348.61" cy="34.06" r="1.3"/><circle cx="522.37" cy="207.28" r="1.3"/><circle cx="358.38" cy="35.7" r="1.3"/><circle cx="520.71" cy="197.54" r="1.3"/><circle cx="368.15" cy="37.84" r="1.3"/><circle cx="518.57" cy="187.8" r="1.3"/><circle cx="377.92" cy="40.49" r="1.3"/><circle cx="515.92" cy="178.06" r="1.3"/><circle cx="387.69" cy="43.66" r="1.3"/><circle cx="512.74" cy="168.32" r="1.3"/><circle cx="397.46" cy="47.38" r="1.3"/><circle cx="509" cy="158.58" r="1.3"/><circle cx="407.23" cy="51.7" r="1.3"/><circle cx="504.67" cy="148.84" r="1.3"/><circle cx="417" cy="56.64" r="1.3"/><circle cx="499.71" cy="139.1" r="1.3"/><circle cx="426.77" cy="62.27" r="1.3"/><circle cx="494.07" cy="129.36" r="1.3"/><circle cx="436.54" cy="68.64" r="1.3"/><circle cx="487.67" cy="119.62" r="1.3"/><circle cx="446.31" cy="75.86" r="1.3"/><circle cx="480.43" cy="109.88" r="1.3"/><circle cx="456.08" cy="84.04" r="1.3"/><circle cx="472.22" cy="100.14" r="1.3"/><circle cx="464.38" cy="91.87" r="1.3"/></g>
<path d="M186.6 108.8L170.58 92.61" stroke="#e94040" stroke-width="0.95"/><path d="M167.2 89.2L172.24 91.67L169.61 94.27Z" fill="#e42a30"/>
<path d="M29.5 118.2L29.5 140.6" stroke="#ee5a5a" stroke-width="0.75"/><path d="M29.5 145.4L27.65 140.1L31.35 140.1Z" fill="#e42a30"/>
<path d="M129.2 242.6L151.4 242.6" stroke="#ee5a5a" stroke-width="0.75"/><path d="M156.2 242.6L150.9 244.45L150.9 240.75Z" fill="#e42a30"/>
<path d="M497.5 80.6L481.75 65.34" stroke="#e94040" stroke-width="0.95"/><path d="M478.3 62L483.39 64.36L480.82 67.02Z" fill="#e42a30"/>
<path d="M313 118.4L313 140.6" stroke="#ee5a5a" stroke-width="0.75"/><path d="M313 145.4L311.15 140.1L314.85 140.1Z" fill="#e42a30"/>
<path d="M412.6 242.6L435 242.6" stroke="#ee5a5a" stroke-width="0.75"/><path d="M439.8 242.6L434.5 244.45L434.5 240.75Z" fill="#e42a30"/>
<text x="145.5" y="276.6" text-anchor="middle" class="cap">(a)</text>
<text x="426.1" y="276.6" text-anchor="middle" class="cap">(b)</text>
</svg>
</body></html>
